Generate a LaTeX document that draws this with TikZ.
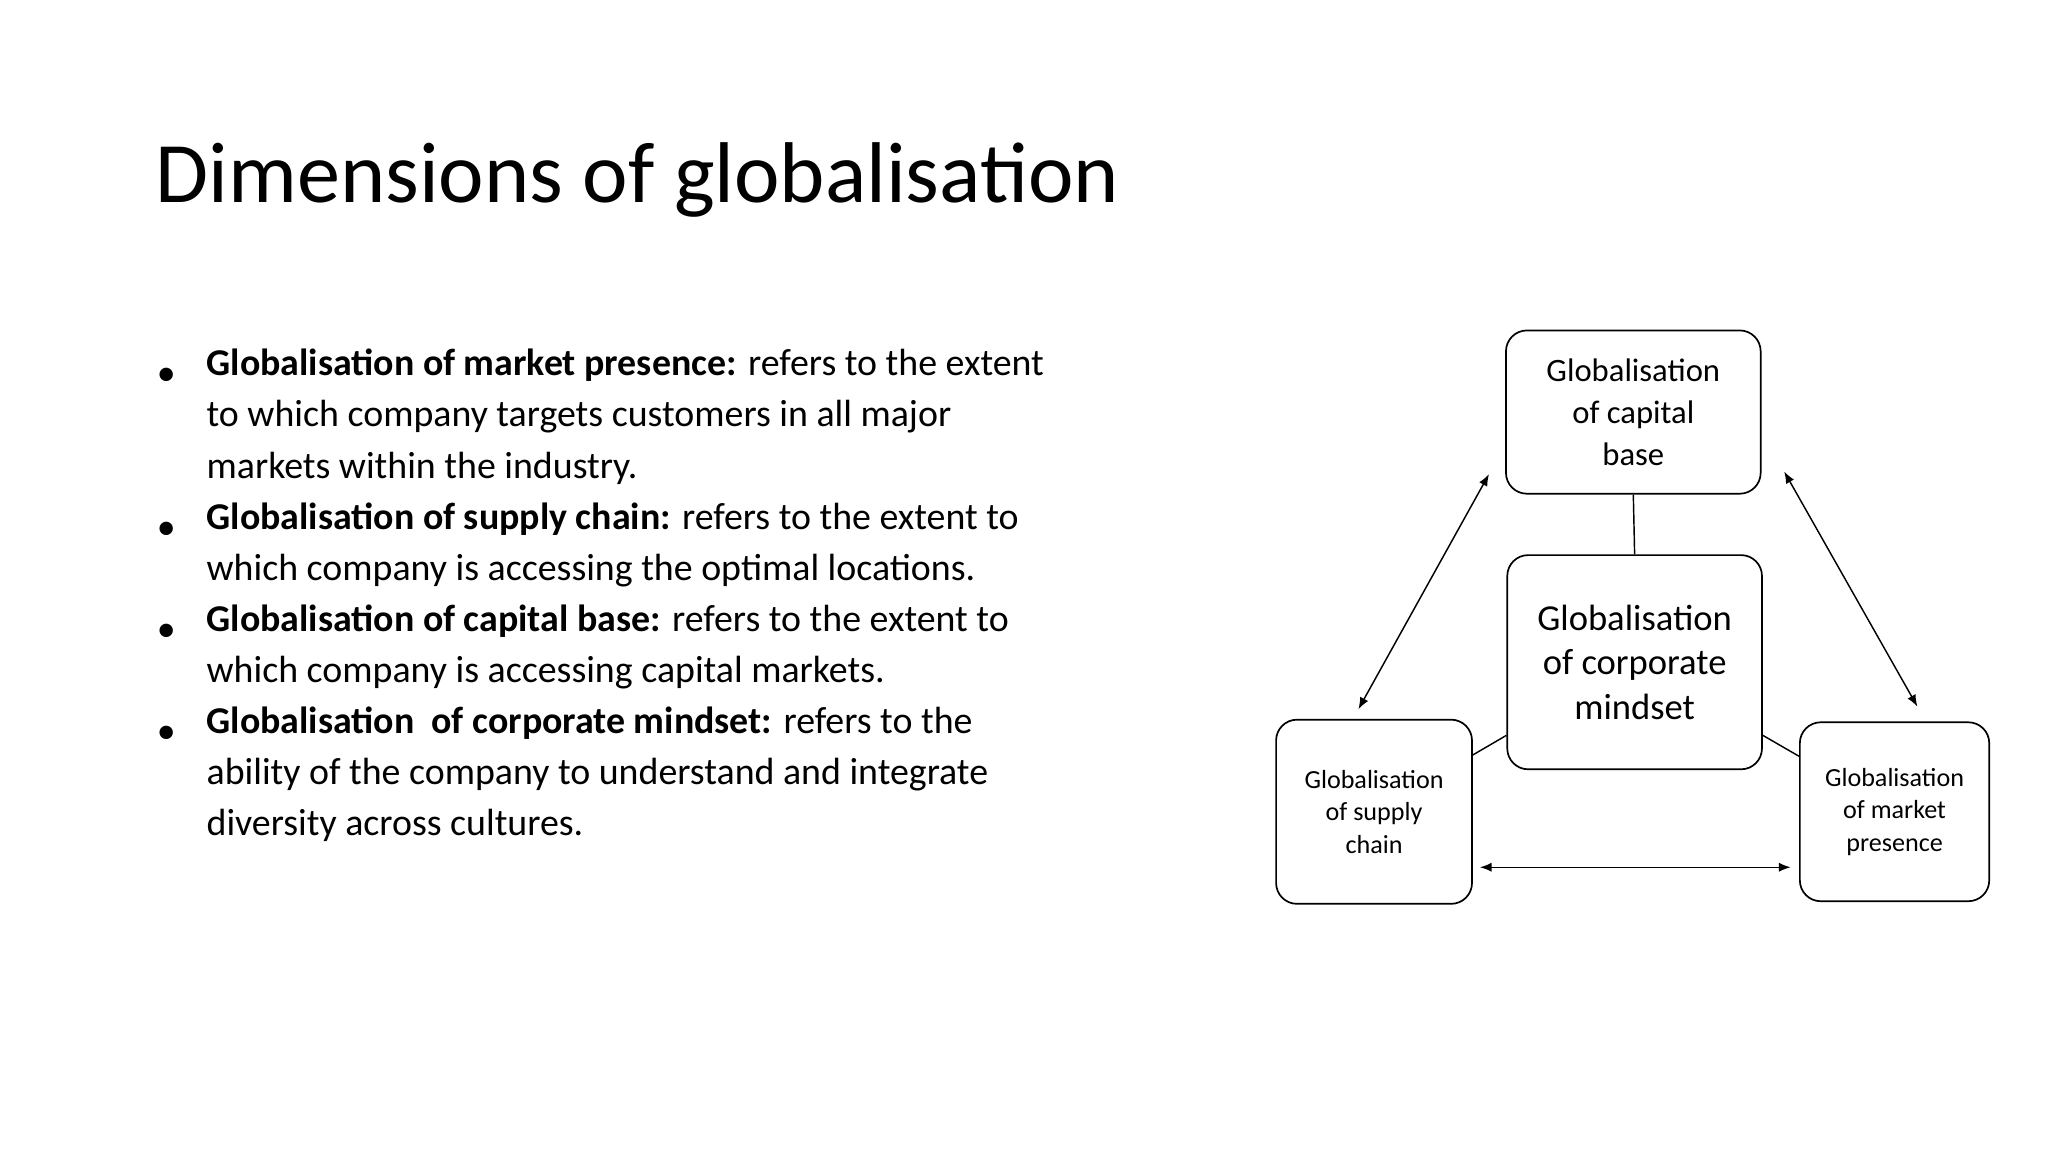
\documentclass[tikz,border=0pt]{standalone}
\usepackage{fontspec}
\setmainfont{Carlito}
\usetikzlibrary{arrows.meta}
\begin{document}
\begin{tikzpicture}[x=1pt,y=-1pt,
  box/.style={draw,line width=1.3pt,rounded corners=16pt,align=center,inner sep=0pt},
  conn/.style={line width=1.1pt},
  arr/.style={line width=1.1pt,{Latex[length=9pt,width=7pt]}-{Latex[length=9pt,width=7pt]}},
  bul/.style={anchor=base west,inner sep=0pt,font=\fontsize{29}{39.2}\selectfont},
  btxt/.style={anchor=north west,inner sep=0pt,align=left,font=\fontsize{29}{39.2}\selectfont}]
\useasboundingbox (0,0) rectangle (1568,882);
\node[anchor=base west,inner sep=0pt,font=\fontsize{66}{70}\selectfont] (title) at (119,155) {Dimensions of globalisation};
% bullets
\node[bul] (b1) at (120,295) {•};
\node[bul] (b2) at (120,413) {•};
\node[bul] (b3) at (120,491) {•};
\node[bul] (b4) at (120,569) {•};
\node[btxt] (t1) at (158,267) {\textbf{Globalisation of market presence:} refers to the extent\\to which company targets customers in all major\\markets within the industry.};
\node[btxt] (t2) at (158,385) {\textbf{Globalisation of supply chain:} refers to the extent to\\which company is accessing the optimal locations.};
\node[btxt] (t3) at (158,463) {\textbf{Globalisation of capital base:} refers to the extent to\\which company is accessing capital markets.};
\node[btxt] (t4) at (158,541) {\textbf{Globalisation\ \ of corporate mindset:} refers to the\\ability of the company to understand and integrate\\diversity across cultures.};
% diagram
\node[box,minimum width=195pt,minimum height=125pt,font=\fontsize{25}{32}\selectfont] (cap) at (1250.5,315.5) {Globalisation\\of capital\\base};
\node[box,minimum width=195pt,minimum height=164pt,font=\fontsize{28}{34}\selectfont] (mind) at (1251.5,507) {Globalisation\\of corporate\\mindset};
\node[box,minimum width=150pt,minimum height=141pt,font=\fontsize{20}{25}\selectfont] (sup) at (1052,621.5) {Globalisation\\of supply\\chain};
\node[box,minimum width=145pt,minimum height=137pt,font=\fontsize{20}{25}\selectfont] (mkt) at (1450.5,621.5) {Globalisation\\of market\\presence};
\draw[conn] (cap.south) -- (mind.north);
\draw[conn] (mind.west |- 0,563) -- (sup.east |- 0,578);
\draw[conn] (mind.east |- 0,563) -- (mkt.west |- 0,579);
\coordinate (a1) at (1040,543); \coordinate (a2) at (1140,363);
\coordinate (a3) at (1366,361); \coordinate (a4) at (1468,541);
\coordinate (a5) at (1133,664); \coordinate (a6) at (1371,664);
\draw[arr] (a1) -- (a2);
\draw[arr] (a3) -- (a4);
\draw[arr] (a5) -- (a6);
\end{tikzpicture}
\end{document}
